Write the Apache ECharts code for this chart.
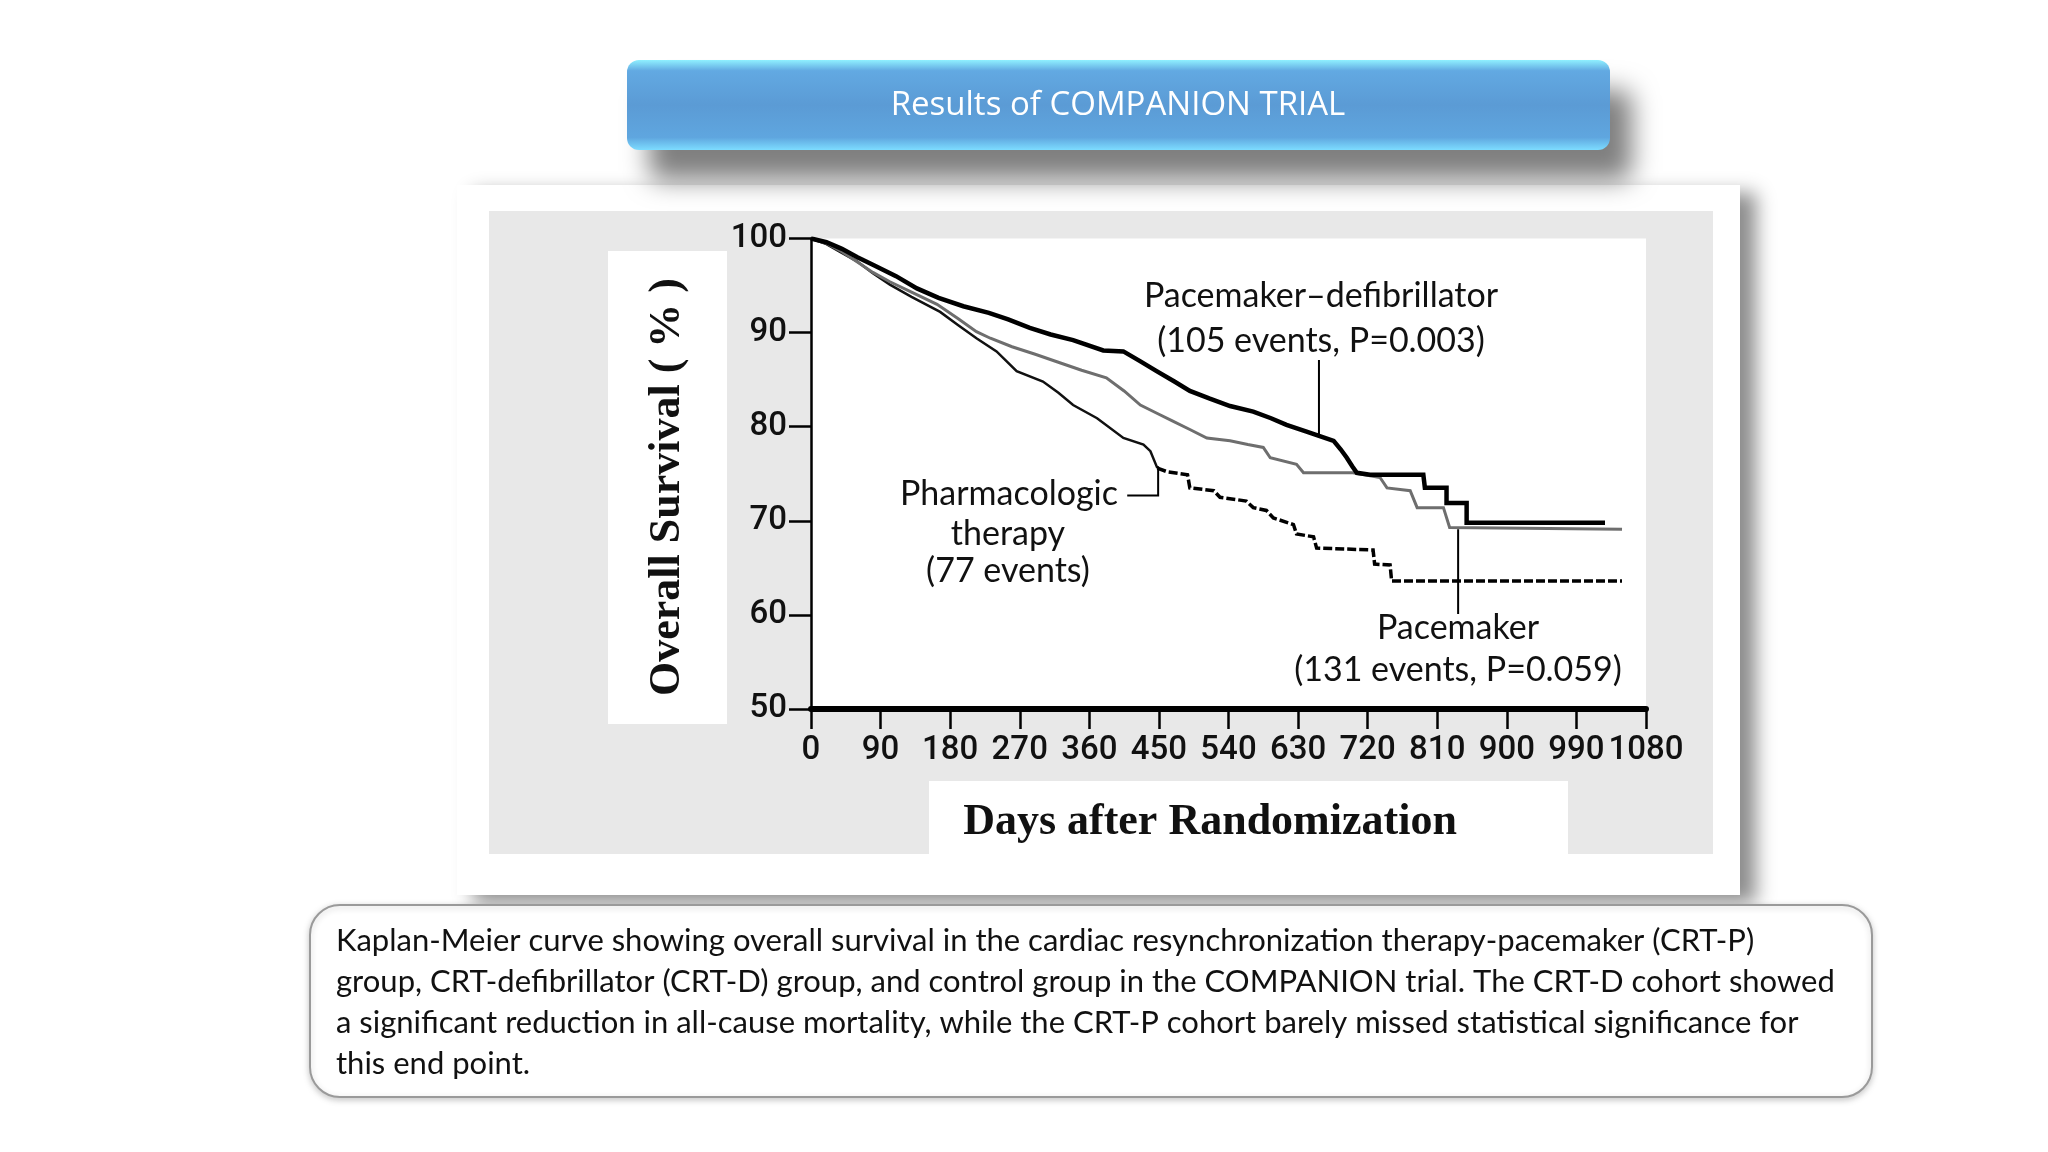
<!DOCTYPE html>
<html>
<head>
<meta charset="utf-8">
<script src="https://cdn.jsdelivr.net/npm/echarts@6/dist/echarts.min.js"></script>
<style>
html, body { margin: 0; padding: 0; background: #fff; }
#main { width: 2048px; height: 1152px; }
</style>
</head>
<body>
<div id="main"></div>
<script>
// tick labels
var dayTicks = [0, 90, 180, 270, 360, 450, 540, 630, 720, 810, 900, 990, 1080];
var survTicks = [50, 60, 70, 80, 90, 100];

// [days, overall survival %]
var crtD = [[0,100],[20,99.6],[40,98.9],[60,98.0],[80,97.2],[110,96.0],[137,94.7],[165,93.7],[197,92.8],[230,92.1],[255,91.4],[283,90.5],[310,89.8],[339,89.2],[378,88.1],[404,88.0],[425,87.0],[447,85.9],[470,84.8],[490,83.8],[515,83.0],[542,82.2],[572,81.6],[595,80.9],[615,80.2],[640,79.5],[658,79.0],[676,78.5],[685,77.6],[693,76.7],[700,75.8],[706,75.1],[723,74.9],[792,74.9],[794,73.5],[822,73.5],[822,71.9],[848,71.9],[848,69.8],[1027,69.8]];
var crtP = [[0,100],[20,99.5],[40,98.6],[60,97.5],[80,96.4],[102,95.4],[130,94.3],[163,93.0],[190,91.5],[214,90.1],[232,89.4],[260,88.5],[290,87.7],[318,86.9],[350,86.0],[382,85.2],[405,83.8],[426,82.3],[448,81.4],[468,80.6],[490,79.7],[512,78.8],[542,78.5],[565,78.1],[585,77.8],[594,76.7],[628,76.0],[637,75.1],[701,75.1],[736,74.6],[745,73.5],[775,73.2],[784,71.4],[818,71.4],[826,69.3],[1049,69.1]];
var pharmA = [[0,100],[20,99.4],[37,98.6],[59,97.6],[80,96.3],[102,95.1],[130,93.8],[167,92.2],[190,90.8],[214,89.4],[240,88.0],[266,85.9],[300,84.8],[320,83.6],[339,82.3],[370,80.9],[404,78.8],[430,78.1],[439,77.4],[448,75.6]];
var pharmB = [[448,75.6],[461,75.2],[487,74.9],[490,73.5],[521,73.2],[529,72.5],[563,72.1],[572,71.4],[589,71.1],[598,70.3],[624,69.6],[628,68.6],[650,68.3],[654,67.1],[727,66.9],[729,65.4],[749,65.3],[751,63.6],[1049,63.6]];

// leader lines of the labels, in data units
var leaderD = [[657,87.1],[657,78.8]];
var leaderP = [[837,69.1],[837,60.1]];
var leaderPharm = [[409,72.7],[449,72.7],[449,75.8]];

var caption = [
	'Kaplan-Meier curve showing overall survival in the cardiac resynchronization therapy-pacemaker (CRT-P)',
	'group, CRT-defibrillator (CRT-D) group, and control group in the COMPANION trial. The CRT-D cohort showed',
	'a significant reduction in all-cause mortality, while the CRT-P cohort barely missed statistical significance for',
	'this end point.'
];

var tickFont = '"Roboto", sans-serif';
var noteFont = '"Lato", "Open Sans", sans-serif';
var serif = '"Liberation Serif", "DejaVu Serif", serif';

function note(txt, x, y) {
	return {
		type : 'text', x : x, y : y, z : 20,
		style : { text : txt, fill : '#111', font : '34px ' + noteFont, align : 'center', verticalAlign : 'middle' }
	};
}

function line(name, data, color, width, type) {
	return {
		name : name, type : 'line', data : data, showSymbol : false, symbol : 'none',
		silent : true, animation : false, z : 5,
		lineStyle : { color : color, width : width, type : type || 'solid', join : 'miter' }
	};
}

var myChart = echarts.init(document.getElementById('main'));
var option = {
	backgroundColor : '#ffffff',
	animation : false,
	grid : {
		left : 811, top : 238.5, right : 402, bottom : 443,
		show : true, backgroundColor : '#ffffff', borderWidth : 0,
		containLabel : false, outerBoundsMode : 'none', z : 3
	},
	xAxis : {
		type : 'value', min : 0, max : 1080, interval : 90,
		axisLine : { onZero : false, lineStyle : { color : '#000', width : 6 } },
		axisTick : { length : 20, lineStyle : { color : '#000', width : 2.5 } },
		axisLabel : { color : '#111', fontSize : 33, fontWeight : 500, fontFamily : tickFont, margin : 25,
			showMinLabel : true, showMaxLabel : true, hideOverlap : false,
			formatter : function(v) { return dayTicks.indexOf(v) >= 0 ? String(v) : ''; } },
		splitLine : { show : false }, z : 6
	},
	yAxis : {
		type : 'value', min : 50, max : 100, interval : 10,
		axisLine : { show : true, onZero : false, lineStyle : { color : '#000', width : 2.5 } },
		axisTick : { show : true, length : 22, lineStyle : { color : '#000', width : 2.5 } },
		axisLabel : { color : '#111', fontSize : 33, fontWeight : 500, fontFamily : tickFont, margin : 24,
			showMinLabel : true, showMaxLabel : true,
			formatter : function(v) { return survTicks.indexOf(v) >= 0 ? String(v) : ''; } },
		splitLine : { show : false }, z : 6
	},
	series : [
		line('Pharmacologic therapy', pharmA, '#111', 2.5),
		line('Pharmacologic therapy', pharmB, '#000', 3.5, [9, 3]),
		line('Pacemaker', crtP, '#6e6e6e', 3),
		line('Pacemaker-defibrillator', crtD, '#000', 4.5),
		line('leader', leaderD, '#000', 2),
		line('leader', leaderP, '#000', 2),
		line('leader', leaderPharm, '#000', 2)
	],
	graphic : [
		// frame of the figure
		{ type : 'rect', z : -10, shape : { x : 457, y : 185, width : 1283, height : 710 },
			style : { fill : '#fff', shadowBlur : 18, shadowColor : 'rgba(0,0,0,0.45)', shadowOffsetX : 16, shadowOffsetY : 8 } },
		{ type : 'rect', z : -9, shape : { x : 489, y : 211, width : 1224, height : 643 }, style : { fill : '#e8e8e8' } },
		{ type : 'rect', z : -8, shape : { x : 608, y : 251, width : 119, height : 473 }, style : { fill : '#fff' } },
		{ type : 'rect', z : -8, shape : { x : 929, y : 781, width : 639, height : 74 }, style : { fill : '#fff' } },
		{ type : 'text', z : 20, x : 668, y : 487, rotation : Math.PI / 2,
			style : { text : 'Overall Survival ( % )', fill : '#111', font : 'bold 44px ' + serif, align : 'center', verticalAlign : 'middle' } },
		{ type : 'text', z : 20, x : 1210, y : 823,
			style : { text : 'Days after Randomization', fill : '#111', font : 'bold 44px ' + serif, align : 'center', verticalAlign : 'middle' } },
		note('Pacemaker\u2013defibrillator', 1321, 296),
		note('(105 events, P=0.003)', 1321, 341),
		note('Pharmacologic', 1009, 494),
		note('therapy', 1008, 534),
		note('(77 events)', 1008, 571),
		note('Pacemaker', 1458, 628),
		note('(131 events, P=0.059)', 1458, 670),
		// title banner
		{ type : 'rect', z : 10, shape : { x : 627, y : 60, width : 983, height : 90, r : 12 },
			style : {
				fill : new echarts.graphic.LinearGradient(0, 0, 0, 1, [
					{ offset : 0, color : '#8ff0ff' }, { offset : 0.12, color : '#62a9e2' },
					{ offset : 0.5, color : '#5b9bd5' }, { offset : 0.86, color : '#5fa6df' },
					{ offset : 1, color : '#7ddcff' } ]),
				shadowBlur : 26, shadowColor : 'rgba(0,0,0,0.5)', shadowOffsetX : 22, shadowOffsetY : 30
			} },
		{ type : 'text', z : 11, x : 1118, y : 106,
			style : { text : 'Results of COMPANION TRIAL', fill : '#fff', font : '33px "Open Sans", sans-serif', align : 'center', verticalAlign : 'middle' } },
		// caption box
		{ type : 'rect', z : 10, shape : { x : 310, y : 905, width : 1562, height : 192, r : 30 },
			style : { fill : '#fff', stroke : '#9a9a9a', lineWidth : 2, shadowBlur : 6, shadowColor : 'rgba(0,0,0,0.2)', shadowOffsetY : 2 } },
		{ type : 'text', z : 11, x : 336, y : 920,
			style : { text : caption.join('\n'), fill : '#111', font : '31px "Lato", sans-serif', lineHeight : 41, align : 'left', verticalAlign : 'top' } }
	]
};
myChart.setOption(option);
</script>
</body>
</html>
